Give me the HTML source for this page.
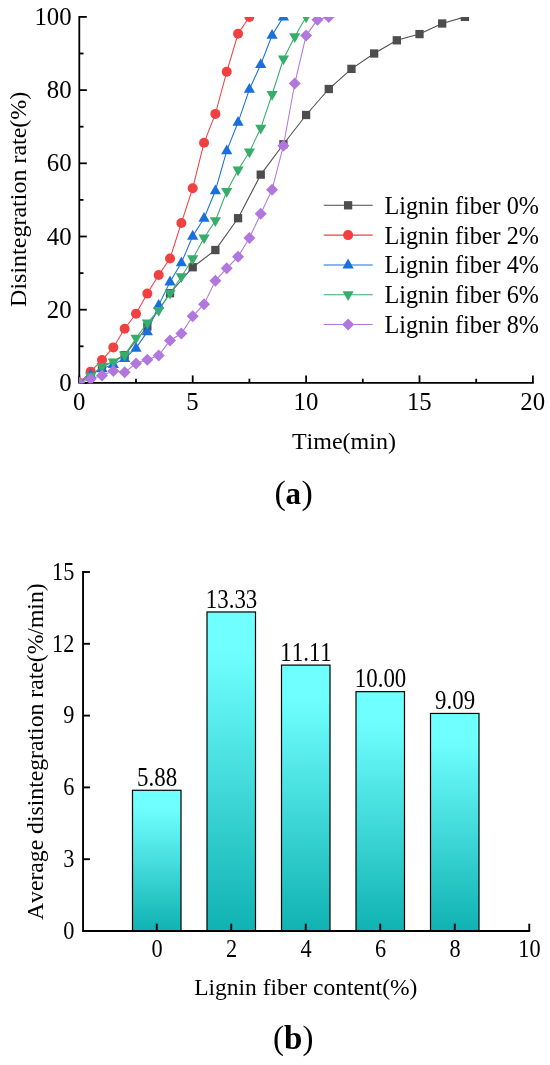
<!DOCTYPE html>
<html><head><meta charset="utf-8"><title>Figure</title>
<style>
html,body{margin:0;padding:0;background:#fff;}
svg{display:block;}
text{font-family:"Liberation Serif","Times New Roman",serif;fill:#000;font-kerning:none;}
.t{font-size:24px;}
.k{font-size:24.8px;}
.kb{font-size:22.3px;}
.cap{font-size:33px;}
</style></head><body>
<svg width="550" height="1065" viewBox="0 0 550 1065">
<rect width="550" height="1065" fill="#fff"/>
<defs><clipPath id="ca"><rect x="79.1" y="16.9" width="460" height="366.4"/></clipPath>
<linearGradient id="bg" x1="0" y1="0" x2="0" y2="1"><stop offset="0" stop-color="#70ffff"/><stop offset="0.12" stop-color="#70ffff"/><stop offset="1" stop-color="#10b2b2"/></linearGradient>
</defs>

<g stroke="#000" stroke-width="1.8" fill="none">
<path d="M79.3,15.999999999999998 V382.9 H533.8"/>
<path d="M79.3,382.90 h7.5"/>
<path d="M79.3,346.30 h4.2"/>
<path d="M79.3,309.70 h7.5"/>
<path d="M79.3,273.10 h4.2"/>
<path d="M79.3,236.50 h7.5"/>
<path d="M79.3,199.90 h4.2"/>
<path d="M79.3,163.30 h7.5"/>
<path d="M79.3,126.70 h4.2"/>
<path d="M79.3,90.10 h7.5"/>
<path d="M79.3,53.50 h4.2"/>
<path d="M79.3,16.90 h7.5"/>
<path d="M79.30,382.9 v-7.5"/>
<path d="M136.00,382.9 v-4.2"/>
<path d="M192.70,382.9 v-7.5"/>
<path d="M249.40,382.9 v-4.2"/>
<path d="M306.10,382.9 v-7.5"/>
<path d="M362.80,382.9 v-4.2"/>
<path d="M419.50,382.9 v-7.5"/>
<path d="M476.20,382.9 v-4.2"/>
<path d="M532.90,382.9 v-7.5"/>
</g>
<g clip-path="url(#ca)">
<polyline points="79.30,382.90 101.98,367.16 124.66,355.08 147.34,326.54 170.02,293.23 192.70,267.24 215.38,250.04 238.06,218.20 260.74,174.65 283.42,144.27 306.10,114.99 328.78,89.00 351.46,68.87 374.14,53.50 396.82,40.32 419.50,34.10 442.18,23.49 464.86,16.90" fill="none" stroke="#4d4d4d" stroke-width="1.05"/>
<rect x="75.15" y="378.75" width="8.30" height="8.30" fill="#4d4d4d"/>
<rect x="97.83" y="363.01" width="8.30" height="8.30" fill="#4d4d4d"/>
<rect x="120.51" y="350.93" width="8.30" height="8.30" fill="#4d4d4d"/>
<rect x="143.19" y="322.39" width="8.30" height="8.30" fill="#4d4d4d"/>
<rect x="165.87" y="289.08" width="8.30" height="8.30" fill="#4d4d4d"/>
<rect x="188.55" y="263.09" width="8.30" height="8.30" fill="#4d4d4d"/>
<rect x="211.23" y="245.89" width="8.30" height="8.30" fill="#4d4d4d"/>
<rect x="233.91" y="214.05" width="8.30" height="8.30" fill="#4d4d4d"/>
<rect x="256.59" y="170.50" width="8.30" height="8.30" fill="#4d4d4d"/>
<rect x="279.27" y="140.12" width="8.30" height="8.30" fill="#4d4d4d"/>
<rect x="301.95" y="110.84" width="8.30" height="8.30" fill="#4d4d4d"/>
<rect x="324.63" y="84.85" width="8.30" height="8.30" fill="#4d4d4d"/>
<rect x="347.31" y="64.72" width="8.30" height="8.30" fill="#4d4d4d"/>
<rect x="369.99" y="49.35" width="8.30" height="8.30" fill="#4d4d4d"/>
<rect x="392.67" y="36.17" width="8.30" height="8.30" fill="#4d4d4d"/>
<rect x="415.35" y="29.95" width="8.30" height="8.30" fill="#4d4d4d"/>
<rect x="438.03" y="19.34" width="8.30" height="8.30" fill="#4d4d4d"/>
<rect x="460.71" y="12.75" width="8.30" height="8.30" fill="#4d4d4d"/>
<polyline points="79.30,382.90 90.64,371.66 101.98,360.02 113.32,347.40 124.66,328.73 136.00,313.73 147.34,293.60 158.68,274.93 170.02,258.46 181.36,222.96 192.70,188.19 204.04,142.80 215.38,113.89 226.72,71.80 238.06,33.74 249.40,16.90" fill="none" stroke="#f14040" stroke-width="1.05"/>
<circle cx="79.30" cy="382.90" r="5" fill="#f14040"/>
<circle cx="90.64" cy="371.66" r="5" fill="#f14040"/>
<circle cx="101.98" cy="360.02" r="5" fill="#f14040"/>
<circle cx="113.32" cy="347.40" r="5" fill="#f14040"/>
<circle cx="124.66" cy="328.73" r="5" fill="#f14040"/>
<circle cx="136.00" cy="313.73" r="5" fill="#f14040"/>
<circle cx="147.34" cy="293.60" r="5" fill="#f14040"/>
<circle cx="158.68" cy="274.93" r="5" fill="#f14040"/>
<circle cx="170.02" cy="258.46" r="5" fill="#f14040"/>
<circle cx="181.36" cy="222.96" r="5" fill="#f14040"/>
<circle cx="192.70" cy="188.19" r="5" fill="#f14040"/>
<circle cx="204.04" cy="142.80" r="5" fill="#f14040"/>
<circle cx="215.38" cy="113.89" r="5" fill="#f14040"/>
<circle cx="226.72" cy="71.80" r="5" fill="#f14040"/>
<circle cx="238.06" cy="33.74" r="5" fill="#f14040"/>
<circle cx="249.40" cy="16.90" r="5" fill="#f14040"/>
<polyline points="79.30,382.90 90.64,374.85 101.98,368.63 113.32,364.60 124.66,358.38 136.00,348.13 147.34,331.66 158.68,305.31 170.02,281.88 181.36,262.85 192.70,236.13 204.04,218.20 215.38,190.75 226.72,150.86 238.06,122.31 249.40,89.37 260.74,64.48 272.08,35.20 283.42,16.90" fill="none" stroke="#1a6fdf" stroke-width="1.05"/>
<polygon points="79.30,376.60 84.90,386.40 73.70,386.40" fill="#1a6fdf"/>
<polygon points="90.64,368.55 96.24,378.35 85.04,378.35" fill="#1a6fdf"/>
<polygon points="101.98,362.33 107.58,372.13 96.38,372.13" fill="#1a6fdf"/>
<polygon points="113.32,358.30 118.92,368.10 107.72,368.10" fill="#1a6fdf"/>
<polygon points="124.66,352.08 130.26,361.88 119.06,361.88" fill="#1a6fdf"/>
<polygon points="136.00,341.83 141.60,351.63 130.40,351.63" fill="#1a6fdf"/>
<polygon points="147.34,325.36 152.94,335.16 141.74,335.16" fill="#1a6fdf"/>
<polygon points="158.68,299.01 164.28,308.81 153.08,308.81" fill="#1a6fdf"/>
<polygon points="170.02,275.58 175.62,285.38 164.42,285.38" fill="#1a6fdf"/>
<polygon points="181.36,256.55 186.96,266.35 175.76,266.35" fill="#1a6fdf"/>
<polygon points="192.70,229.83 198.30,239.63 187.10,239.63" fill="#1a6fdf"/>
<polygon points="204.04,211.90 209.64,221.70 198.44,221.70" fill="#1a6fdf"/>
<polygon points="215.38,184.45 220.98,194.25 209.78,194.25" fill="#1a6fdf"/>
<polygon points="226.72,144.56 232.32,154.36 221.12,154.36" fill="#1a6fdf"/>
<polygon points="238.06,116.01 243.66,125.81 232.46,125.81" fill="#1a6fdf"/>
<polygon points="249.40,83.07 255.00,92.87 243.80,92.87" fill="#1a6fdf"/>
<polygon points="260.74,58.18 266.34,67.98 255.14,67.98" fill="#1a6fdf"/>
<polygon points="272.08,28.90 277.68,38.70 266.48,38.70" fill="#1a6fdf"/>
<polygon points="283.42,10.60 289.02,20.40 277.82,20.40" fill="#1a6fdf"/>
<polyline points="79.30,382.90 90.64,376.13 101.98,366.43 113.32,362.04 124.66,355.08 136.00,338.25 147.34,322.88 158.68,310.43 170.02,293.23 181.36,276.76 192.70,258.83 204.04,237.96 215.38,220.76 226.72,191.48 238.06,169.89 249.40,151.95 260.74,128.16 272.08,94.49 283.42,58.99 294.76,36.66 306.10,16.90" fill="none" stroke="#37ad6b" stroke-width="1.05"/>
<polygon points="79.30,389.20 84.90,379.40 73.70,379.40" fill="#37ad6b"/>
<polygon points="90.64,382.43 96.24,372.63 85.04,372.63" fill="#37ad6b"/>
<polygon points="101.98,372.73 107.58,362.93 96.38,362.93" fill="#37ad6b"/>
<polygon points="113.32,368.34 118.92,358.54 107.72,358.54" fill="#37ad6b"/>
<polygon points="124.66,361.38 130.26,351.58 119.06,351.58" fill="#37ad6b"/>
<polygon points="136.00,344.55 141.60,334.75 130.40,334.75" fill="#37ad6b"/>
<polygon points="147.34,329.18 152.94,319.38 141.74,319.38" fill="#37ad6b"/>
<polygon points="158.68,316.73 164.28,306.93 153.08,306.93" fill="#37ad6b"/>
<polygon points="170.02,299.53 175.62,289.73 164.42,289.73" fill="#37ad6b"/>
<polygon points="181.36,283.06 186.96,273.26 175.76,273.26" fill="#37ad6b"/>
<polygon points="192.70,265.13 198.30,255.33 187.10,255.33" fill="#37ad6b"/>
<polygon points="204.04,244.26 209.64,234.46 198.44,234.46" fill="#37ad6b"/>
<polygon points="215.38,227.06 220.98,217.26 209.78,217.26" fill="#37ad6b"/>
<polygon points="226.72,197.78 232.32,187.98 221.12,187.98" fill="#37ad6b"/>
<polygon points="238.06,176.19 243.66,166.39 232.46,166.39" fill="#37ad6b"/>
<polygon points="249.40,158.25 255.00,148.45 243.80,148.45" fill="#37ad6b"/>
<polygon points="260.74,134.46 266.34,124.66 255.14,124.66" fill="#37ad6b"/>
<polygon points="272.08,100.79 277.68,90.99 266.48,90.99" fill="#37ad6b"/>
<polygon points="283.42,65.29 289.02,55.49 277.82,55.49" fill="#37ad6b"/>
<polygon points="294.76,42.96 300.36,33.16 289.16,33.16" fill="#37ad6b"/>
<polygon points="306.10,23.20 311.70,13.40 300.50,13.40" fill="#37ad6b"/>
<polyline points="79.30,382.90 90.64,379.06 101.98,375.58 113.32,370.97 124.66,372.29 136.00,363.50 147.34,359.84 158.68,355.45 170.02,340.44 181.36,333.49 192.70,316.29 204.04,304.21 215.38,280.79 226.72,268.34 238.06,256.63 249.40,237.96 260.74,213.81 272.08,189.65 283.42,145.73 294.76,83.51 306.10,35.57 317.44,19.83 328.78,16.90" fill="none" stroke="#b177de" stroke-width="1.05"/>
<polygon points="79.30,376.90 85.30,382.90 79.30,388.90 73.30,382.90" fill="#b177de"/>
<polygon points="90.64,373.06 96.64,379.06 90.64,385.06 84.64,379.06" fill="#b177de"/>
<polygon points="101.98,369.58 107.98,375.58 101.98,381.58 95.98,375.58" fill="#b177de"/>
<polygon points="113.32,364.97 119.32,370.97 113.32,376.97 107.32,370.97" fill="#b177de"/>
<polygon points="124.66,366.29 130.66,372.29 124.66,378.29 118.66,372.29" fill="#b177de"/>
<polygon points="136.00,357.50 142.00,363.50 136.00,369.50 130.00,363.50" fill="#b177de"/>
<polygon points="147.34,353.84 153.34,359.84 147.34,365.84 141.34,359.84" fill="#b177de"/>
<polygon points="158.68,349.45 164.68,355.45 158.68,361.45 152.68,355.45" fill="#b177de"/>
<polygon points="170.02,334.44 176.02,340.44 170.02,346.44 164.02,340.44" fill="#b177de"/>
<polygon points="181.36,327.49 187.36,333.49 181.36,339.49 175.36,333.49" fill="#b177de"/>
<polygon points="192.70,310.29 198.70,316.29 192.70,322.29 186.70,316.29" fill="#b177de"/>
<polygon points="204.04,298.21 210.04,304.21 204.04,310.21 198.04,304.21" fill="#b177de"/>
<polygon points="215.38,274.79 221.38,280.79 215.38,286.79 209.38,280.79" fill="#b177de"/>
<polygon points="226.72,262.34 232.72,268.34 226.72,274.34 220.72,268.34" fill="#b177de"/>
<polygon points="238.06,250.63 244.06,256.63 238.06,262.63 232.06,256.63" fill="#b177de"/>
<polygon points="249.40,231.96 255.40,237.96 249.40,243.96 243.40,237.96" fill="#b177de"/>
<polygon points="260.74,207.81 266.74,213.81 260.74,219.81 254.74,213.81" fill="#b177de"/>
<polygon points="272.08,183.65 278.08,189.65 272.08,195.65 266.08,189.65" fill="#b177de"/>
<polygon points="283.42,139.73 289.42,145.73 283.42,151.73 277.42,145.73" fill="#b177de"/>
<polygon points="294.76,77.51 300.76,83.51 294.76,89.51 288.76,83.51" fill="#b177de"/>
<polygon points="306.10,29.57 312.10,35.57 306.10,41.57 300.10,35.57" fill="#b177de"/>
<polygon points="317.44,13.83 323.44,19.83 317.44,25.83 311.44,19.83" fill="#b177de"/>
<polygon points="328.78,10.90 334.78,16.90 328.78,22.90 322.78,16.90" fill="#b177de"/>
</g>
<text class="k" transform="translate(71.6,390.90) scale(1,1.05)" text-anchor="end">0</text>
<text class="k" transform="translate(71.6,317.70) scale(1,1.05)" text-anchor="end">20</text>
<text class="k" transform="translate(71.6,244.50) scale(1,1.05)" text-anchor="end">40</text>
<text class="k" transform="translate(71.6,171.30) scale(1,1.05)" text-anchor="end">60</text>
<text class="k" transform="translate(71.6,98.10) scale(1,1.05)" text-anchor="end">80</text>
<text class="k" transform="translate(71.6,24.90) scale(1,1.05)" text-anchor="end">100</text>
<text class="k" transform="translate(79.10,409.5) scale(1,1.05)" text-anchor="middle">0</text>
<text class="k" transform="translate(192.50,409.5) scale(1,1.05)" text-anchor="middle">5</text>
<text class="k" transform="translate(305.90,409.5) scale(1,1.05)" text-anchor="middle">10</text>
<text class="k" transform="translate(419.30,409.5) scale(1,1.05)" text-anchor="middle">15</text>
<text class="k" transform="translate(532.70,409.5) scale(1,1.05)" text-anchor="middle">20</text>
<text class="t" x="343.9" y="449.3" text-anchor="middle">Time(min)</text>
<text class="t" transform="translate(25.7,199.3) rotate(-90)" text-anchor="middle">Disintegration rate(%)</text>
<path d="M323.7,205.30 H372.7" stroke="#4d4d4d" stroke-width="1.05"/>
<rect x="343.95" y="201.15" width="8.30" height="8.30" fill="#4d4d4d"/>
<text class="t" style="font-size:24.2px" x="384.4" y="213.70">Lignin fiber 0%</text>
<path d="M323.7,235.10 H372.7" stroke="#f14040" stroke-width="1.05"/>
<circle cx="348.10" cy="235.10" r="5" fill="#f14040"/>
<text class="t" style="font-size:24.2px" x="384.4" y="243.50">Lignin fiber 2%</text>
<path d="M323.7,264.90 H372.7" stroke="#1a6fdf" stroke-width="1.05"/>
<polygon points="348.10,258.60 353.70,268.40 342.50,268.40" fill="#1a6fdf"/>
<text class="t" style="font-size:24.2px" x="384.4" y="273.30">Lignin fiber 4%</text>
<path d="M323.7,294.70 H372.7" stroke="#37ad6b" stroke-width="1.05"/>
<polygon points="348.10,301.00 353.70,291.20 342.50,291.20" fill="#37ad6b"/>
<text class="t" style="font-size:24.2px" x="384.4" y="303.10">Lignin fiber 6%</text>
<path d="M323.7,324.50 H372.7" stroke="#b177de" stroke-width="1.05"/>
<polygon points="348.10,318.50 354.10,324.50 348.10,330.50 342.10,324.50" fill="#b177de"/>
<text class="t" style="font-size:24.2px" x="384.4" y="332.90">Lignin fiber 8%</text>
<text id="pa1" style="font-size:34px" x="274.5" y="504.3">(</text>
<text id="pa2" style="font-size:31px;font-weight:bold" x="285.5" y="503.5">a</text>
<text id="pa3" style="font-size:34px" x="301.4" y="504.3">)</text>
<rect x="132.50" y="790.27" width="48.5" height="140.73" fill="url(#bg)" stroke="#000" stroke-width="1.2"/>
<text class="kb" style="font-size:22.9px" transform="translate(157.05,786.07) scale(1,1.15)" text-anchor="middle">5.88</text>
<rect x="207.00" y="611.97" width="48.5" height="319.03" fill="url(#bg)" stroke="#000" stroke-width="1.2"/>
<text class="kb" style="font-size:22.9px" transform="translate(231.55,607.77) scale(1,1.15)" text-anchor="middle">13.33</text>
<rect x="281.50" y="665.10" width="48.5" height="265.90" fill="url(#bg)" stroke="#000" stroke-width="1.2"/>
<text class="kb" style="font-size:22.9px" transform="translate(306.05,660.90) scale(1,1.15)" text-anchor="middle">11.11</text>
<rect x="356.00" y="691.67" width="48.5" height="239.33" fill="url(#bg)" stroke="#000" stroke-width="1.2"/>
<text class="kb" style="font-size:22.9px" transform="translate(380.55,687.47) scale(1,1.15)" text-anchor="middle">10.00</text>
<rect x="430.50" y="713.45" width="48.5" height="217.55" fill="url(#bg)" stroke="#000" stroke-width="1.2"/>
<text class="kb" style="font-size:22.9px" transform="translate(455.05,709.25) scale(1,1.15)" text-anchor="middle">9.09</text>
<g stroke="#000" stroke-width="1.9" fill="none">
<path d="M83.05,571.05 V931.0 H530.2"/>
<path d="M83.05,859.20 h6.9"/>
<path d="M83.05,787.40 h6.9"/>
<path d="M83.05,715.60 h6.9"/>
<path d="M83.05,643.80 h6.9"/>
<path d="M83.05,572.00 h6.9"/>
<path d="M156.75,931.0 v-7.3"/>
<path d="M231.25,931.0 v-7.3"/>
<path d="M305.75,931.0 v-7.3"/>
<path d="M380.25,931.0 v-7.3"/>
<path d="M454.75,931.0 v-7.3"/>
<path d="M529.25,931.0 v-7.3"/>
</g>
<text class="kb" transform="translate(74.4,938.70) scale(1,1.125)" text-anchor="end">0</text>
<text class="kb" transform="translate(74.4,866.90) scale(1,1.125)" text-anchor="end">3</text>
<text class="kb" transform="translate(74.4,795.10) scale(1,1.125)" text-anchor="end">6</text>
<text class="kb" transform="translate(74.4,723.30) scale(1,1.125)" text-anchor="end">9</text>
<text class="kb" transform="translate(74.4,651.50) scale(1,1.125)" text-anchor="end">12</text>
<text class="kb" transform="translate(74.4,579.70) scale(1,1.125)" text-anchor="end">15</text>
<text class="kb" transform="translate(156.95,957.0) scale(1,1.125)" text-anchor="middle">0</text>
<text class="kb" transform="translate(231.45,957.0) scale(1,1.125)" text-anchor="middle">2</text>
<text class="kb" transform="translate(305.95,957.0) scale(1,1.125)" text-anchor="middle">4</text>
<text class="kb" transform="translate(380.45,957.0) scale(1,1.125)" text-anchor="middle">6</text>
<text class="kb" transform="translate(454.95,957.0) scale(1,1.125)" text-anchor="middle">8</text>
<text class="kb" transform="translate(529.45,957.0) scale(1,1.125)" text-anchor="middle">10</text>
<text class="t" style="font-size:23.5px" x="305.8" y="994.7" text-anchor="middle">Lignin fiber content(%)</text>
<text class="t" transform="translate(42.5,751.7) rotate(-90)" style="font-size:23.7px" text-anchor="middle">Average disintegration rate(%/min)</text>
<text class="cap" x="293.3" y="1049.1" text-anchor="middle">(<tspan font-weight="bold">b</tspan>)</text>
</svg></body></html>
